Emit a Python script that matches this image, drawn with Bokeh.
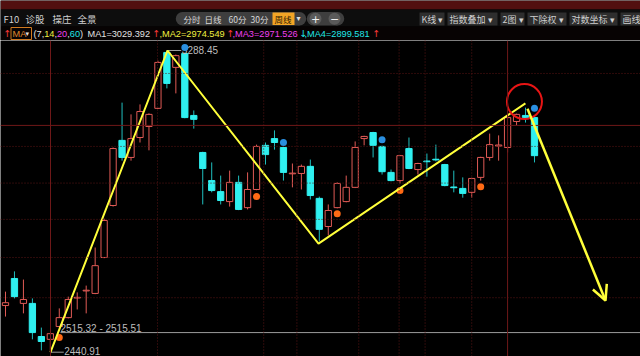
from bokeh.plotting import figure
from bokeh.layouts import column
from bokeh.models import Range1d, Span, Arrow, OpenHead
from bokeh.embed import file_html
from bokeh.resources import INLINE
from bokeh.core.properties import value

# ---------------- data (weekly candles) ----------------
opens  = [2572, 2648, 2578, 2578, 2485, 2477, 2513, 2538, 2593, 2613,
          2606, 2707, 2853, 3036, 2988, 3044, 3075, 3126, 3283, 3241,
          3280, 3106, 3002, 2923, 2892, 2864, 2918, 2847, 2898, 3022,
          3041, 3016, 2942, 2943, 2963, 2873, 2794, 2847, 2864, 2904,
          3041, 3058, 3019, 2946, 2923, 3013, 2954, 2978, 2983, 2968,
          2905, 2901, 2890, 2932, 2988, 3020, 3016, 3089, 3106, 3100]
highs  = [2611, 2668, 2645, 2592, 2510, 2495, 2564, 2597, 2609, 2628,
          2735, 2816, 3016, 3142, 3109, 3137, 3112, 3260, 3288.45, 3277,
          3283, 3120, 3004, 2974, 2937, 2951, 2937, 2946, 3024, 3030,
          3064, 3018, 2971, 2968, 2982, 2878, 2856, 2918, 2937, 3033,
          3049, 3060, 3021, 2954, 2995, 3044, 2973, 2999, 3024, 2970,
          2951, 2932, 2931, 2990, 3055, 3050, 3102, 3111, 3128, 3102]
lows   = [2541, 2592, 2550, 2477, 2446, 2440.91, 2510, 2536, 2561, 2550,
          2604, 2705, 2850, 2979, 2979, 3030, 3008, 3124, 3182, 3168,
          3098, 3069, 2856, 2890, 2856, 2850, 2840, 2842, 2896, 2968,
          3010, 2923, 2904, 2898, 2870, 2752, 2769, 2845, 2862, 2902,
          3022, 2988, 2940, 2921, 2915, 2955, 2940, 2934, 2977, 2907,
          2890, 2875, 2875, 2923, 2979, 2979, 3002, 3078, 3086, 2974]
closes = [2580, 2597, 2589, 2496, 2471, 2493, 2538, 2589, 2595, 2615,
          2684, 2811, 3013, 2988, 3041, 3117, 3109, 3255, 3196, 3274,
          3100, 3095, 2957, 2895, 2867, 2918, 2842, 2898, 3019, 2996,
          3030, 2946, 2944, 2963, 2881, 2786, 2839, 2915, 2904, 3016,
          3047, 3022, 2948, 2923, 2993, 2957, 2971, 2976, 2981, 2909,
          2903, 2887, 2929, 2988, 3024, 3023, 3100, 3109, 3100, 2993]

# signal dots (candle index, price)
buy_idx = [6, 28, 37, 44, 53]
buy_px  = [2482, 2878, 2830, 2895, 2906]
sell_idx = [20, 31, 42, 59]
sell_px  = [3297, 3030, 3038, 3126]

# hand-drawn zigzag and arrow (candle index, price)
zig_x = [5.02, 18.07, 34.91, 57.99]
zig_y = [2440.91, 3288.45, 2746, 3140]
arrow_from = (58.22, 3125)
arrow_to = (66.92, 2586)
circle_at = (57.88, 3145)

# labels
high_label = "3288.45"
low_label = "2440.91"
gap_label = "2515.32 - 2515.51"
gap_level = 2496

# grid (index / price positions)
vgrid_dotted = [16.95, 28.8, 32.5, 39.4, 43.9, 46.8, 52.0]
vgrid_solid = [5.02, 56.0]
hgrid_dotted = [3224, 3019, 2916, 2814, 2707, 2594]
hgrid_solid = [3078]

# header texts
tabs_left = ["F10", "诊股", "操庄", "全景"]
tabs_left_x = [3, 25, 52, 77]
period_tabs = ["分时", "日线", "60分", "30分"]
period_x = [183, 204, 228, 250]
right_btns = ["K线 ▾", "指数叠加 ▾", "2图 ▾", "下除权 ▾", "对数坐标 ▾", "画线"]
right_left = [419, 447, 500, 527, 569, 620]
right_right = [444, 497, 524, 566, 617, 640]

WHITE = "#e2e2e2"; YEL = "#f0f040"; MAG = "#f040f0"; CYA = "#20e8e8"; RED = "#ff3a3a"
ma_segments = [("(7,", 33, WHITE), ("14", 43.7, YEL), (",", 53.9, WHITE), ("20", 56.5, MAG),
               (",", 66.8, WHITE), ("60", 69.3, CYA), (")", 79.5, WHITE),
               ("MA1=3029.392", 87, WHITE), (",MA2=2974.549", 159, YEL),
               (",MA3=2971.526", 232, MAG), (",MA4=2899.581", 304, CYA)]
ma_arrows = [("↑", 3, RED), ("↑", 152, RED), ("↑", 226, RED), ("↓", 299, CYA), ("↑", 372, RED)]

# ---------------- header ----------------
h = figure(width=640, height=40, x_range=Range1d(0, 640), y_range=Range1d(40, 0),
           output_backend="svg", toolbar_location=None, x_axis_location=None,
           y_axis_location=None, min_border=0, background_fill_color="black",
           border_fill_color="black", outline_line_color=None)
h.grid.visible = False
h.quad(left=[0], right=[640], top=[0], bottom=[9], fill_color="#521010", line_color=None)
h.quad(left=[0], right=[640], top=[9], bottom=[26], fill_color="#0d0d0d", line_color=None)
h.quad(left=[0], right=[640], top=[26], bottom=[40], fill_color="#070303", line_color=None)

cjk = value("Noto Sans CJK SC")
h.text(x=tabs_left_x, y=[18]*4, text=tabs_left, text_font=cjk, text_font_size="9.5px",
       text_color="#d0d0d0", text_baseline="middle")

# pills
PILL = "#3e3e3e"
h.quad(left=[182, 313], right=[299, 337], top=[11.5, 11.5], bottom=[25, 25], fill_color=PILL, line_color=None)
h.scatter(x=[182, 299, 313, 337], y=[18.25]*4, size=13.5, fill_color=PILL, line_color=None)
h.quad(left=[272], right=[294], top=[12], bottom=[24.5], fill_color="#f2a526", line_color=None)
h.text(x=period_x, y=[18]*4, text=period_tabs, text_font=cjk, text_font_size="8.5px",
       text_color="#d8d8d8", text_baseline="middle")
h.text(x=[274], y=[18], text=["周线"], text_font=cjk, text_font_size="8.5px",
       text_color="#2a1800", text_baseline="middle")
h.text(x=[296], y=[18], text=["▾"], text_font=value("DejaVu Sans"), text_font_size="8px",
       text_color="#e0e0e0", text_baseline="middle")
h.scatter(x=[315, 334], y=[18.25, 18.25], size=12, fill_color="#5a5a5a", line_color=None)
h.text(x=[315, 334], y=[18, 18], text=["+", "−"], text_font=value("DejaVu Sans"),
       text_font_size="11px", text_color="#f0f0f0", text_baseline="middle", text_align="center")

h.quad(left=right_left, right=right_right, top=[12]*6, bottom=[25]*6,
       fill_color="#2e2e2e", line_color=None)
h.text(x=[l + 2 for l in right_left], y=[18.5]*6, text=right_btns, text_font=cjk,
       text_font_size="9px", text_color="#cfcfcf", text_baseline="middle")

# MA info row
h.quad(left=[10.5], right=[31], top=[27], bottom=[39], fill_color=None, line_color="#d07a20")
h.text(x=[12], y=[33], text=["MA"], text_font=value("Liberation Sans"), text_font_size="9.2px",
       text_color="#e08a30", text_baseline="middle")
h.text(x=[25], y=[33], text=["▾"], text_font=value("DejaVu Sans"), text_font_size="7px",
       text_color="#e0e0e0", text_baseline="middle")
for t, x, c in ma_segments:
    h.text(x=[x], y=[33], text=[t], text_font=value("Liberation Sans"), text_font_size="9.2px",
           text_color=c, text_baseline="middle")
for t, x, c in ma_arrows:
    h.text(x=[x], y=[33], text=[t], text_font=value("DejaVu Sans"), text_font_size="9.5px",
           text_color=c, text_baseline="middle")

# ---------------- chart ----------------
p = figure(width=640, height=316, x_range=Range1d(-0.5577, 70.824),
           y_range=Range1d(2428.83, 3316.54), output_backend="svg", toolbar_location=None,
           x_axis_location=None, y_axis_location=None, min_border=0,
           background_fill_color="black", border_fill_color="black", outline_line_color=None)
p.grid.visible = False

for v in vgrid_dotted:
    p.add_layout(Span(location=v, dimension="height", line_color="#5c1515", line_dash="1 2", line_width=1))
for v in vgrid_solid:
    p.add_layout(Span(location=v, dimension="height", line_color="#6e1818", line_width=1))
for v in hgrid_dotted:
    p.add_layout(Span(location=v, dimension="width", line_color="#5c1515", line_dash="1 2", line_width=1))
for v in hgrid_solid:
    p.add_layout(Span(location=v, dimension="width", line_color="#6e1818", line_width=1))

idx = list(range(len(opens)))
up = [i for i in idx if closes[i] >= opens[i]]
dn = [i for i in idx if closes[i] < opens[i]]
UPC = "#e05a55"
DNC = "#2ff0f0"

p.segment(x0=up, x1=up, y0=[lows[i] for i in up], y1=[highs[i] for i in up], line_color=UPC, line_width=1)
p.segment(x0=dn, x1=dn, y0=[lows[i] for i in dn], y1=[highs[i] for i in dn], line_color="#1fbfbf", line_width=1)
p.vbar(x=up, width=0.7, top=[closes[i] for i in up], bottom=[opens[i] for i in up],
       fill_color="black", line_color=UPC, line_width=1)
p.vbar(x=dn, width=0.7, top=[opens[i] for i in dn], bottom=[closes[i] for i in dn],
       fill_color=DNC, line_color=DNC, line_width=1)

# gap line and labels
p.segment(x0=[6.13], x1=[72], y0=[gap_level], y1=[gap_level], line_color="#9c9c9c", line_width=1)
p.text(x=[6.13], y=[gap_level], text=[gap_label], text_font=value("Liberation Sans"),
       text_font_size="10px", text_color="#bdbdbd", text_baseline="bottom", y_offset=1)
hi_i = highs.index(max(highs))
lo_i = lows.index(min(lows))
p.segment(x0=[hi_i], x1=[hi_i + 1.6], y0=[max(highs)], y1=[max(highs)], line_color="#9c9c9c")
p.text(x=[hi_i + 1.67], y=[max(highs)], text=[high_label], text_font=value("Liberation Sans"),
       text_font_size="10px", text_color="#bdbdbd", text_baseline="middle")
p.segment(x0=[lo_i], x1=[lo_i + 1.5], y0=[min(lows)], y1=[min(lows)], line_color="#9c9c9c")
p.text(x=[lo_i + 1.55], y=[min(lows)], text=[low_label], text_font=value("Liberation Sans"),
       text_font_size="10px", text_color="#bdbdbd", text_baseline="middle", y_offset=-1)

# signals
p.scatter(x=buy_idx, y=buy_px, size=7, fill_color="#ff6a14", line_color=None)
p.scatter(x=sell_idx, y=sell_px, size=7, fill_color="#2a8fe0", line_color=None)

# zigzag, arrow, circle
YL = "#ffff3a"
p.line(x=zig_x, y=zig_y, line_color=YL, line_width=2)
p.add_layout(Arrow(x_start=arrow_from[0], y_start=arrow_from[1], x_end=arrow_to[0], y_end=arrow_to[1],
                   line_color=YL, line_width=2.5,
                   end=OpenHead(size=15, line_color=YL, line_width=2.5)))
p.scatter(x=[circle_at[0]], y=[circle_at[1]], size=35, fill_color=None, line_color="#e81515", line_width=2)

layout = column(h, p, spacing=0)
open("out.html", "w").write(file_html(layout, INLINE))
